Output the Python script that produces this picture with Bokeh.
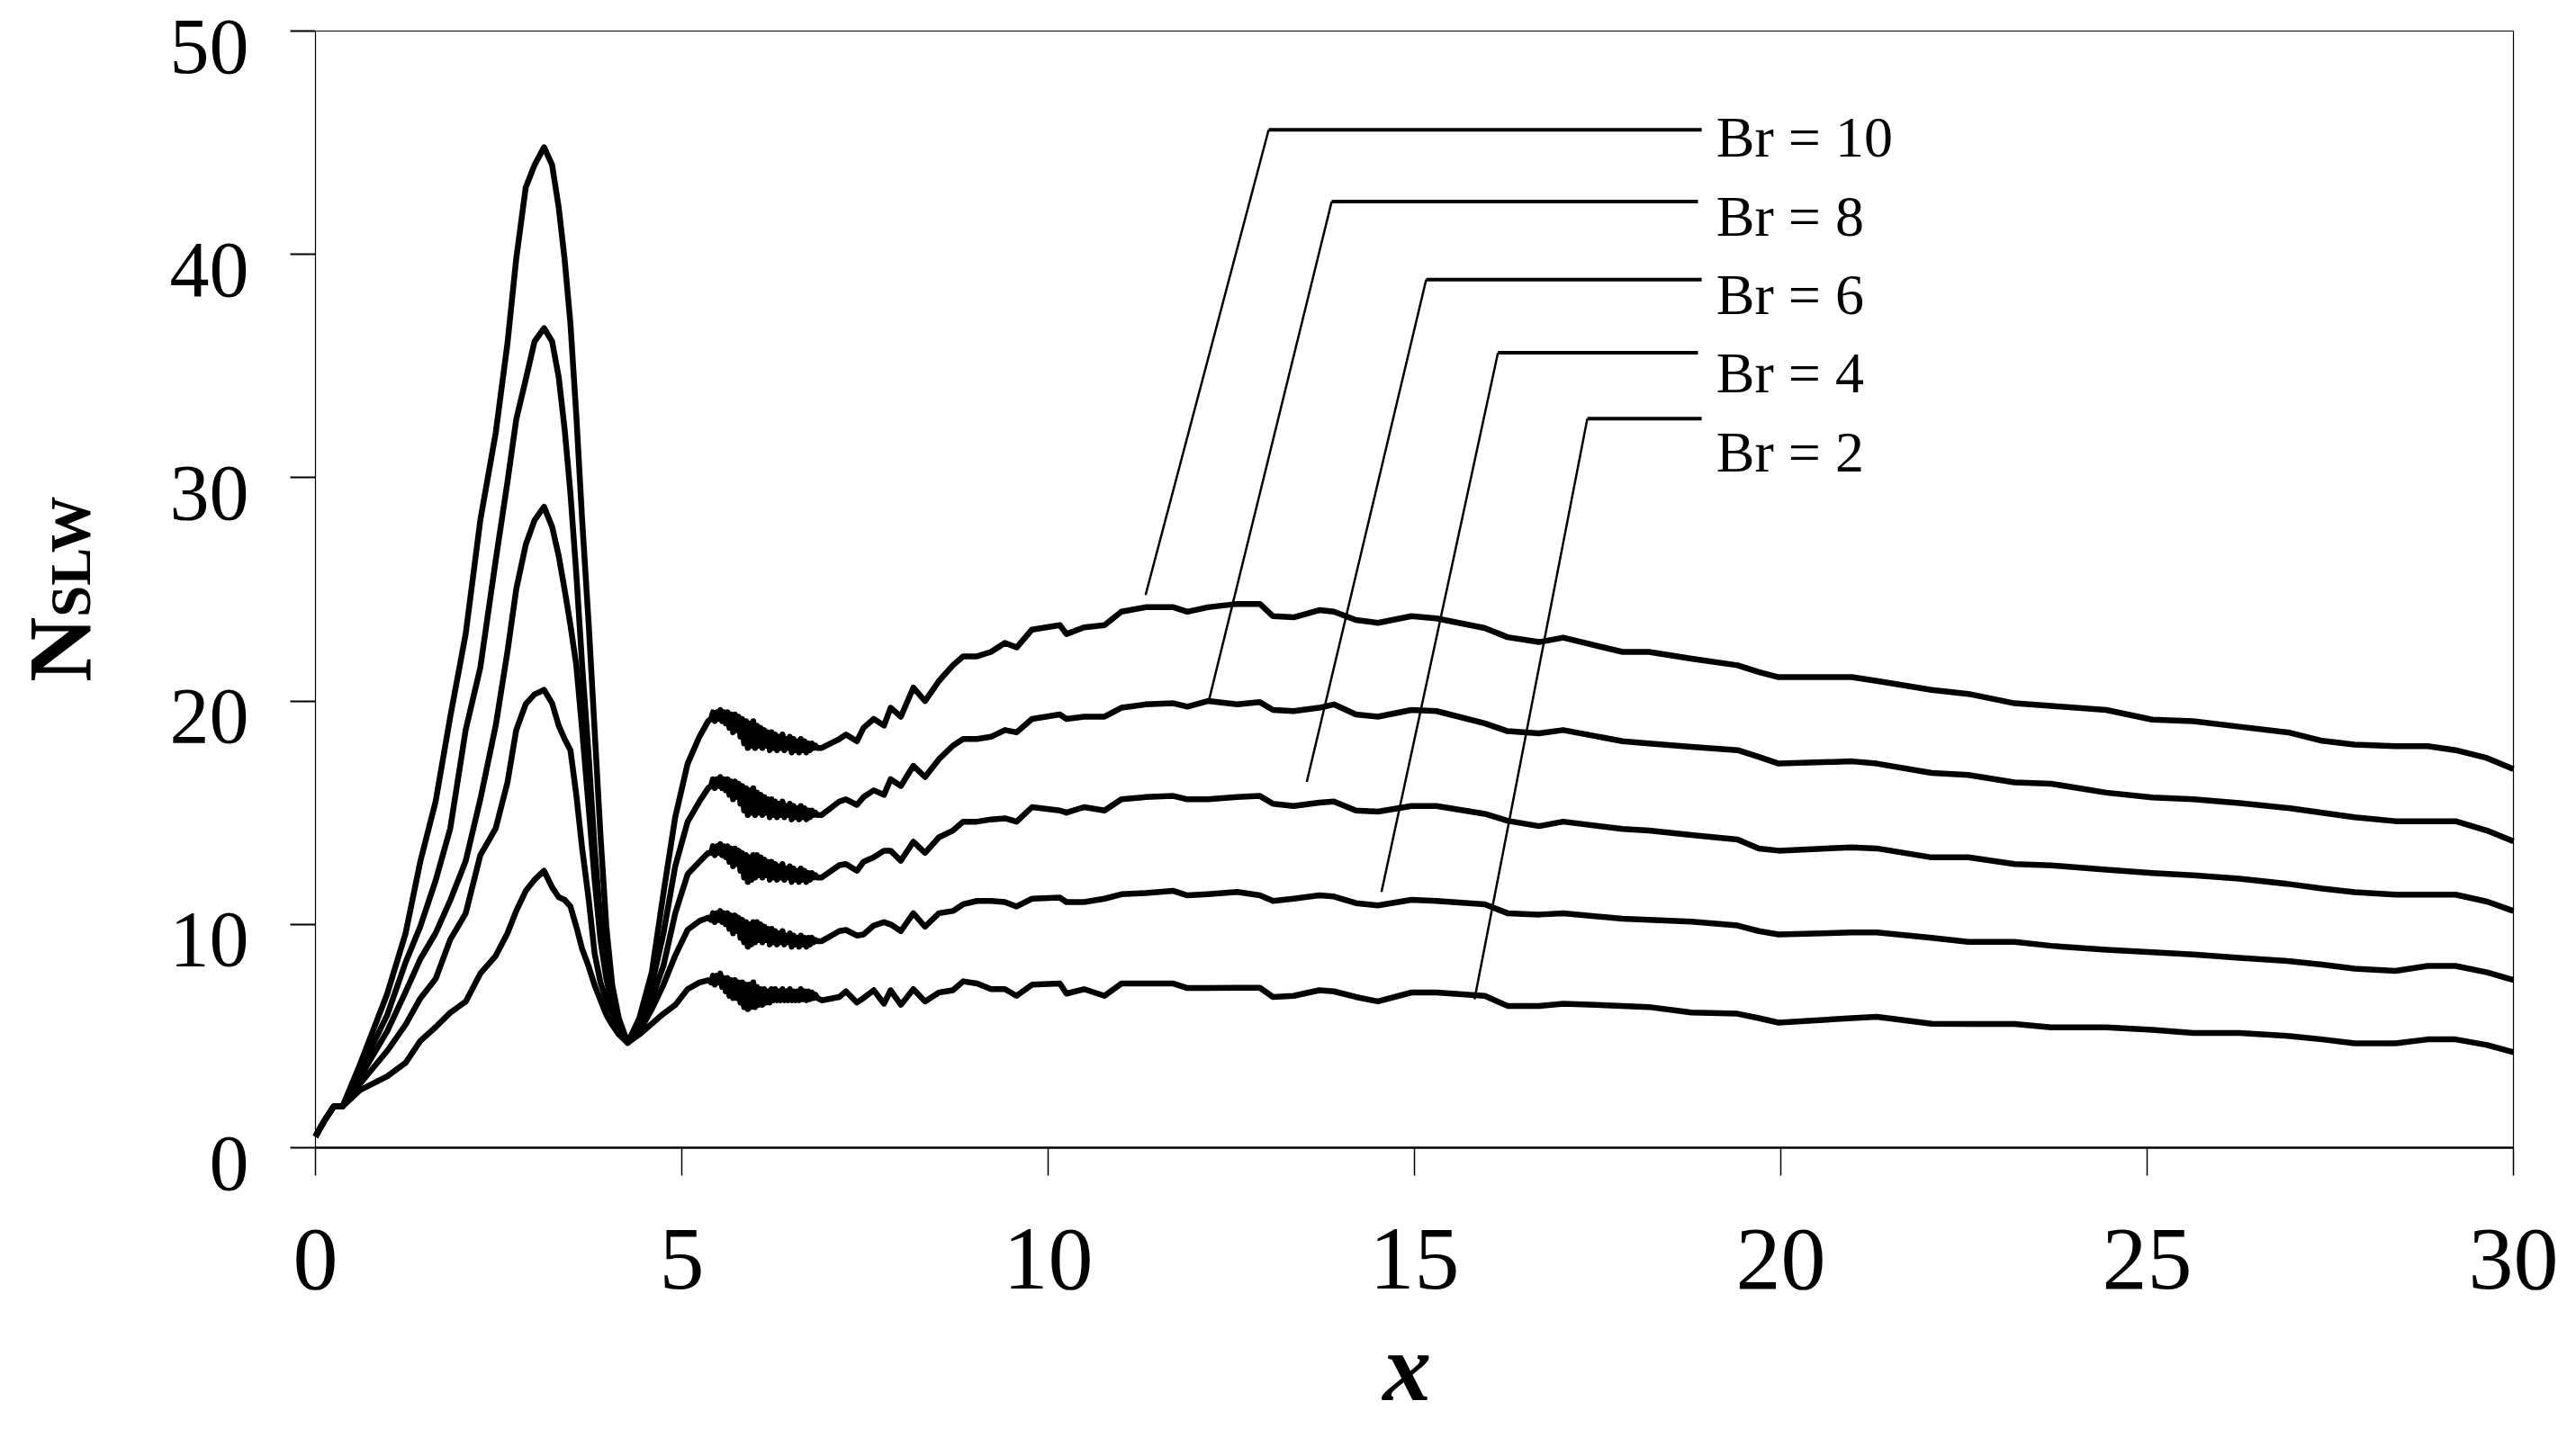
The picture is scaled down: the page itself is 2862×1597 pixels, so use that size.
import math
from bokeh.plotting import figure
from bokeh.models import Range1d, FixedTicker, Label, LinearAxis
from bokeh.embed import file_html
from bokeh.resources import INLINE

# ---------------- data ----------------
x_rise = [0, 0.12, 0.25, 0.37, 0.61, 0.98, 1.23, 1.43, 1.64, 1.84,
          2.05, 2.25, 2.46, 2.62, 2.74, 2.87, 2.99, 3.12, 3.23, 3.32,
          3.40, 3.48, 3.56, 3.64, 3.73, 3.81, 3.89, 3.97, 4.05, 4.14,
          4.26, 4.42, 4.59, 4.75, 4.91, 5.08, 5.24, 5.36]
x_noise = [5.400, 5.425, 5.450, 5.475, 5.500, 5.525, 5.550, 5.575, 5.600, 5.625,
           5.650, 5.675, 5.700, 5.725, 5.750, 5.775, 5.800, 5.825, 5.850, 5.875,
           5.900, 5.925, 5.950, 5.975,
           6.000, 6.025, 6.050, 6.075, 6.100, 6.125, 6.150, 6.175, 6.200, 6.225,
           6.250, 6.275, 6.300, 6.325, 6.350, 6.375, 6.400, 6.425, 6.450, 6.475,
           6.500, 6.525, 6.550, 6.575,
           6.600, 6.625, 6.650, 6.675, 6.700, 6.725, 6.750, 6.775, 6.800, 6.825,
           6.850]
x_mid = [6.91, 7.15, 7.24, 7.39, 7.48, 7.62, 7.76, 7.85, 7.99, 8.16,
         8.32, 8.51, 8.70, 8.84, 9.03, 9.22, 9.41, 9.57, 9.78, 10.16,
         10.25, 10.49, 10.77, 11.0, 11.33, 11.71, 11.9, 12.18]
x_tail = [12.58, 12.89, 13.07, 13.35, 13.7, 13.9, 14.2, 14.5, 14.96, 15.3,
          15.96, 16.27, 16.7, 17.03, 17.84, 18.2, 18.78, 19.41, 19.7, 19.97,
          20.97, 21.31, 22.06, 22.56, 23.19, 23.69, 24.44, 25.07, 25.63, 26.26,
          26.95, 27.39, 27.83, 28.39, 28.83, 29.21, 29.64, 30.0]
x_vals = x_rise + x_noise + x_mid + x_tail

y_br10 = [0.5, 1.2, 1.85, 1.85, 3.75, 6.9, 9.6, 12.8, 15.5, 19.3,
          23.0, 28.1, 32.0, 36.0, 39.8, 43.0, 44.0, 44.8, 44.0, 42.1,
          39.8, 36.9, 32.8, 28.1, 23.4, 18.7, 14.0, 9.9, 7.3, 5.8,
          4.7, 5.8, 7.85, 11.4, 14.8, 17.2, 18.4, 19.1,
          19.2, 19.5, 19.1, 19.5, 19.2, 19.6, 19.1, 19.5, 19.0, 19.5,
          18.8, 19.4, 18.6, 19.4, 18.7, 19.3, 18.4, 19.2, 18.1, 19.1,
          17.9, 19.0, 18.0, 19.1,
          17.9, 18.9, 18.0, 18.8, 17.9, 18.7, 18.0, 18.6, 17.8, 18.6,
          17.9, 18.5, 17.8, 18.4, 17.9, 18.5, 17.8, 18.3, 17.9, 18.4,
          17.7, 18.3, 17.8, 18.2,
          17.7, 18.3, 17.8, 18.2, 17.7, 18.1, 17.8, 18.1, 17.9, 18.0, 17.9,
          17.9, 18.3, 18.5, 18.2, 18.8, 19.2, 18.9, 19.7, 19.3, 20.6,
          20.0, 20.9, 21.6, 22.0, 22.0, 22.2, 22.6, 22.4, 23.2, 23.4,
          23.0, 23.3, 23.4, 24.0, 24.2, 24.2, 24.0, 24.2,
          24.35, 24.35, 23.8, 23.75, 24.07, 24.0, 23.63, 23.5, 23.8, 23.7,
          23.27, 22.86, 22.64, 22.84, 22.2, 22.2, 21.9, 21.6, 21.3, 21.07,
          21.07, 20.9, 20.5, 20.32, 19.9, 19.78, 19.6, 19.17, 19.1, 18.85,
          18.58, 18.22, 18.05, 17.98, 17.98, 17.8, 17.45, 16.95]
y_br8 = [0.5, 1.2, 1.85, 1.85, 3.46, 5.95, 8.3, 9.9, 11.96, 14.3,
         18.7, 21.5, 26.3, 29.8, 32.6, 34.4, 36.1, 36.7, 36.1, 34.5,
         32.2, 29.3, 25.7, 21.6, 17.5, 13.4, 10.2, 7.85, 6.6, 5.5,
         4.7, 5.5, 7.27, 9.6, 12.6, 14.6, 15.5, 16.1,
         16.2, 16.5, 16.1, 16.5, 16.2, 16.6, 16.1, 16.5, 16.0, 16.5,
         15.8, 16.4, 15.6, 16.4, 15.7, 16.3, 15.4, 16.2, 15.1, 16.1,
         14.9, 16.0, 15.0, 16.1,
         14.9, 15.9, 15.0, 15.8, 14.9, 15.7, 15.0, 15.6, 14.8, 15.6,
         14.9, 15.5, 14.8, 15.4, 14.9, 15.5, 14.8, 15.3, 14.9, 15.4,
         14.7, 15.3, 14.8, 15.2,
         14.7, 15.3, 14.8, 15.2, 14.7, 15.1, 14.8, 15.1, 14.9, 15.0, 14.9,
         14.9, 15.5, 15.6, 15.35, 15.7, 16.0, 15.8, 16.5, 16.2, 17.1,
         16.6, 17.4, 18.0, 18.3, 18.3, 18.4, 18.7, 18.6, 19.2, 19.4,
         19.2, 19.3, 19.3, 19.7, 19.85, 19.9, 19.75, 20.0,
         19.85, 19.95, 19.6, 19.55, 19.7, 19.85, 19.4, 19.3, 19.6, 19.55,
         19.0, 18.65, 18.55, 18.7, 18.2, 18.1, 17.95, 17.8, 17.5, 17.2,
         17.3, 17.2, 16.78, 16.69, 16.36, 16.3, 15.9, 15.68, 15.6, 15.43,
         15.2, 15.0, 14.8, 14.62, 14.62, 14.62, 14.2, 13.72]
y_br6 = [0.5, 1.2, 1.85, 1.85, 3.17, 5.22, 6.98, 8.44, 9.61, 11.08,
         12.83, 15.6, 18.9, 22.2, 25.0, 27.0, 28.1, 28.7, 27.8, 26.5,
         25.0, 23.4, 21.6, 18.7, 15.2, 12.0, 9.3, 7.56, 6.4, 5.4,
         4.7, 5.36, 6.68, 8.15, 10.49, 12.25, 12.8, 13.2,
         13.2, 13.5, 13.1, 13.5, 13.2, 13.6, 13.1, 13.5, 13.0, 13.5,
         12.8, 13.4, 12.6, 13.4, 12.7, 13.3, 12.4, 13.2, 12.1, 13.1,
         11.9, 13.0, 12.0, 13.1,
         12.1, 13.1, 12.2, 13.0, 12.1, 12.9, 12.2, 12.8, 12.0, 12.8,
         12.1, 12.7, 12.0, 12.6, 12.1, 12.7, 12.0, 12.5, 12.1, 12.6,
         11.9, 12.5, 12.0, 12.4,
         11.9, 12.5, 12.0, 12.4, 11.9, 12.3, 12.0, 12.3, 12.1, 12.2, 12.1,
         12.1, 12.65, 12.7, 12.4, 12.8, 13.0, 13.3, 13.3, 12.85, 13.7,
         13.2, 13.9, 14.2, 14.6, 14.6, 14.7, 14.75, 14.6, 15.25, 15.1,
         15.0, 15.25, 15.1, 15.6, 15.7, 15.75, 15.6, 15.6,
         15.7, 15.75, 15.4, 15.3, 15.45, 15.5, 15.1, 15.05, 15.3, 15.3,
         14.95, 14.64, 14.4, 14.6, 14.27, 14.2, 14.0, 13.8, 13.4, 13.3,
         13.45, 13.4, 13.0, 13.0, 12.7, 12.64, 12.45, 12.3, 12.2, 12.05,
         11.8, 11.6, 11.44, 11.33, 11.33, 11.33, 11.02, 10.6]
y_br4 = [0.5, 1.2, 1.85, 1.85, 2.87, 4.34, 5.51, 6.68, 7.56, 9.32,
         10.49, 13.1, 14.3, 16.35, 18.7, 19.87, 20.3, 20.5, 19.9, 18.9,
         18.3, 17.8, 15.8, 13.4, 11.1, 8.7, 7.4, 6.6, 6.0, 5.3,
         4.7, 5.2, 6.2, 7.3, 8.6, 9.76, 10.15, 10.3,
         10.2, 10.5, 10.1, 10.5, 10.2, 10.6, 10.1, 10.5, 10.0, 10.5,
         9.8, 10.4, 9.6, 10.4, 9.7, 10.3, 9.4, 10.2, 9.2, 10.1,
         9.0, 10.0, 9.1, 10.1,
         9.2, 10.1, 9.3, 10.0, 9.2, 9.9, 9.3, 9.8, 9.1, 9.8,
         9.2, 9.7, 9.1, 9.6, 9.2, 9.7, 9.1, 9.5, 9.2, 9.6,
         9.0, 9.5, 9.1, 9.4,
         9.0, 9.5, 9.1, 9.4, 9.0, 9.4, 9.1, 9.4, 9.2, 9.3, 9.25,
         9.25, 9.7, 9.75, 9.5, 9.55, 9.95, 10.1, 10.0, 9.7, 10.5,
         9.9, 10.5, 10.6, 10.9, 11.05, 11.05, 11.0, 10.8, 11.15, 11.2,
         11.0, 11.0, 11.15, 11.35, 11.4, 11.5, 11.3, 11.35,
         11.45, 11.3, 11.05, 11.15, 11.3, 11.25, 10.95, 10.85, 11.1, 11.05,
         10.9, 10.5, 10.44, 10.5, 10.25, 10.2, 10.12, 9.95, 9.7, 9.55,
         9.64, 9.64, 9.4, 9.22, 9.22, 9.04, 8.86, 8.75, 8.65, 8.5,
         8.35, 8.2, 8.02, 7.92, 8.14, 8.14, 7.85, 7.51]
y_br2 = [0.5, 1.2, 1.85, 1.85, 2.58, 3.2, 3.8, 4.78, 5.4, 6.05,
         6.54, 7.8, 8.59, 9.6, 10.6, 11.5, 12.0, 12.4, 11.66, 11.22,
         11.1, 10.8, 9.9, 8.9, 8.1, 7.27, 6.6, 5.95, 5.5, 5.07,
         4.7, 5.07, 5.55, 6.0, 6.39, 7.1, 7.4, 7.5,
         7.4, 7.7, 7.3, 7.7, 7.4, 7.8, 7.2, 7.6, 7.0, 7.6,
         6.8, 7.5, 6.7, 7.5, 6.7, 7.4, 6.5, 7.4, 6.3, 7.3,
         6.2, 7.3, 6.3, 7.4,
         6.3, 7.2, 6.4, 7.1, 6.4, 7.1, 6.5, 7.0, 6.5, 7.1,
         6.6, 7.1, 6.6, 7.0, 6.6, 7.1, 6.6, 7.0, 6.6, 7.1,
         6.6, 7.0, 6.6, 7.0,
         6.6, 7.1, 6.65, 7.0, 6.6, 7.0, 6.65, 6.95, 6.7, 6.85, 6.7,
         6.6, 6.75, 7.0, 6.5, 6.7, 7.05, 6.45, 7.05, 6.4, 7.1,
         6.55, 6.95, 7.05, 7.45, 7.35, 7.1, 7.1, 6.8, 7.3, 7.35,
         6.9, 7.1, 6.8, 7.35, 7.35, 7.35, 7.15, 7.15,
         7.16, 7.16, 6.75, 6.8, 7.05, 7.0, 6.75, 6.55, 6.95, 6.95,
         6.8, 6.35, 6.35, 6.45, 6.35, 6.3, 6.05, 6.0, 5.8, 5.6,
         5.8, 5.86, 5.55, 5.54, 5.54, 5.39, 5.39, 5.28, 5.14, 5.14,
         5.0, 4.85, 4.67, 4.67, 4.85, 4.85, 4.6, 4.28]

series = [y_br10, y_br8, y_br6, y_br4, y_br2]

label_texts = ["Br = 10", "Br = 8", "Br = 6", "Br = 4", "Br = 2"]
label_x = [19.12, 19.12, 19.12, 19.12, 19.12]
label_y = [45.57, 42.02, 38.52, 35.01, 31.47]

lead_tip_x = [11.33, 12.2, 13.53, 14.55, 15.82]
lead_tip_y = [24.75, 20.1, 16.38, 11.45, 6.65]
lead_corner_x = [13.01, 13.87, 15.16, 16.14, 17.36]
lead_corner_y = [45.58, 42.36, 38.87, 35.6, 32.65]
lead_end_x = [18.92, 18.87, 18.92, 18.87, 18.92]

x_ticks = [0, 5, 10, 15, 20, 25, 30]
y_ticks = [0, 10, 20, 30, 40, 50]
y_tick_labels = ["0", "10", "20", "30", "40", "50"]

X_MIN, X_MAX = 0, 30
Y_MIN, Y_MAX = 0, 50

# ---------------- figure ----------------
FONT = "Liberation Serif"
W, H = 2846, 1581
FRAME_L, FRAME_R, FRAME_T, FRAME_B = 350, 2792, 34, 1275   # plot area in canvas px
sx = (FRAME_R - FRAME_L) / (X_MAX - X_MIN)
sy = (FRAME_B - FRAME_T) / (Y_MAX - Y_MIN)

p = figure(width=W, height=H, output_backend="svg", toolbar_location=None,
           title=None, min_border=0,
           x_range=Range1d(X_MIN - FRAME_L / sx, X_MAX + (W - FRAME_R) / sx),
           y_range=Range1d(Y_MIN - (H - FRAME_B) / sy, Y_MAX + FRAME_T / sy))

p.background_fill_color = "white"
p.border_fill_color = "white"
p.xgrid.visible = False
p.ygrid.visible = False
p.outline_line_color = None

# bottom axis at y = 0
p.xaxis.fixed_location = 0
p.xaxis.bounds = (X_MIN, X_MAX)
p.xaxis.ticker = FixedTicker(ticks=x_ticks)
p.xaxis.major_tick_out = 31
p.xaxis.major_tick_in = 0
p.xaxis.minor_tick_out = 0
p.xaxis.minor_tick_in = 0
p.xaxis.axis_line_width = 2.5
p.xaxis.axis_line_color = "black"
p.xaxis.major_tick_line_width = 1.5
p.xaxis.major_tick_line_color = "black"
p.xaxis.major_label_text_font = FONT
p.xaxis.major_label_text_font_size = "100px"
p.xaxis.major_label_text_color = "black"
p.xaxis.major_label_standoff = 60

# left axis at x = 0
p.yaxis.fixed_location = 0
p.yaxis.bounds = (Y_MIN, Y_MAX)
p.yaxis.ticker = FixedTicker(ticks=y_ticks)
p.yaxis.major_tick_out = 28
p.yaxis.major_tick_in = 0
p.yaxis.minor_tick_out = 0
p.yaxis.minor_tick_in = 0
p.yaxis.axis_line_width = 1.2
p.yaxis.axis_line_color = "black"
p.yaxis.major_tick_line_width = 2
p.yaxis.major_tick_line_color = "black"
p.yaxis.major_label_overrides = {t: "" for t in y_ticks}

# plot-area border on top and right, as tick-less axes
top_axis = LinearAxis(fixed_location=Y_MAX, bounds=(X_MIN, X_MAX),
                      ticker=FixedTicker(ticks=[]), axis_line_width=1.2,
                      axis_line_color="black")
right_axis = LinearAxis(fixed_location=X_MAX, bounds=(Y_MIN, Y_MAX),
                        ticker=FixedTicker(ticks=[]), axis_line_width=1.2,
                        axis_line_color="black")
p.add_layout(top_axis, "above")
p.add_layout(right_axis, "right")

for ys in series:
    p.line(x_vals, ys, line_color="black", line_width=6.5, line_join="round")

# leader lines
p.segment(x0=lead_tip_x, y0=lead_tip_y, x1=lead_corner_x, y1=lead_corner_y,
          line_color="black", line_width=2.5)
p.segment(x0=lead_corner_x, y0=lead_corner_y, x1=lead_end_x, y1=lead_corner_y,
          line_color="black", line_width=4)

# x-axis title
p.add_layout(Label(x=14.90, y=0, y_offset=-303, text="x",
                   text_font=FONT, text_font_style="bold italic",
                   text_font_size="108px", text_color="black",
                   text_align="center", text_baseline="bottom"))

# y tick labels
for t, s in zip(y_ticks, y_tick_labels):
    p.add_layout(Label(x=0, y=t, x_offset=-74, y_offset=-17, text=s,
                       text_font=FONT, text_font_size="88px", text_color="black",
                       text_align="right", text_baseline="middle"))

for t, lx, ly in zip(label_texts, label_x, label_y):
    p.add_layout(Label(x=lx, y=ly, y_offset=-8, text=t, text_font=FONT,
                       text_font_size="64px", text_color="black",
                       text_align="left", text_baseline="middle"))

# rotated y-axis title "N" + small "SLW" as HTML text (rotated with CSS),
# laid over the page's left margin area
y_title_html = (
    '<div style="position:absolute;left:17px;top:758px;margin:0;padding:0;'
    'transform-origin:0 0;transform:rotate(-90deg);white-space:nowrap;'
    "line-height:100px;font-family:'Liberation Serif';font-weight:bold;"
    'color:black;">'
    '<span style="font-size:100px;">N</span>'
    '<span style="font-size:63px;">SLW</span>'
    '</div>'
)

html = file_html(p, INLINE)
html = html.replace("</body>", y_title_html + "\n</body>", 1)
open("out.html", "w").write(html)
